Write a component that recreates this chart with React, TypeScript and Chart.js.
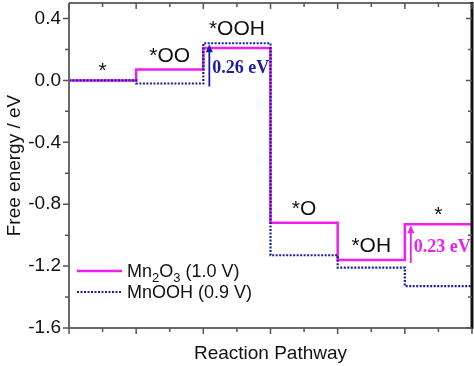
import React, { useEffect, useRef } from 'react';
import { Chart, registerables } from 'chart.js';

Chart.register(...registerables);

// ---- data ----
const steps = ['*', '*OO', '*OOH', '*O', '*OH', '*'];
const seriesNames = ['Mn2O3 (1.0 V)', 'MnOOH (0.9 V)'];
const mn2o3 = [0, 0.07, 0.21, -0.92, -1.16, -0.93];
const mnooh = [0, -0.02, 0.24, -1.13, -1.21, -1.33];
const yTickValues = [-1.6, -1.2, -0.8, -0.4, 0.0, 0.4];
// potential-limiting gaps: series index, from step, to step, label
const gapSeries = [1, 0];
const gapFrom = [1, 4];
const gapTo = [2, 5];
const gapLabels = ['0.26 eV', '0.23 eV'];

const MAGENTA = '#f01ef0';
const BLUE = '#1c1ca8';
const SANS = '"Liberation Sans", Arial, sans-serif';
const SERIF = '"Liberation Serif", "Times New Roman", serif';

const toSteps = (v: number[]) => {
  const pts = v.map((y, i) => ({ x: i, y }));
  pts.push({ x: v.length, y: v[v.length - 1] });
  return pts;
};

const decorPlugin = {
  id: 'decor',
  afterDatasetsDraw(chart: any) {
    const { ctx, chartArea: a, scales } = chart;
    const xs = scales.x;
    const ys = scales.y;
    const series = [mn2o3, mnooh];
    const colors = [MAGENTA, BLUE];
    ctx.save();

    // step labels
    ctx.fillStyle = '#111';
    ctx.font = `21px ${SANS}`;
    ctx.textAlign = 'center';
    ctx.textBaseline = 'alphabetic';
    steps.forEach((s, i) => {
      const top = Math.max(mn2o3[i], mnooh[i]);
      const off = s === '*' ? 3 : 8;
      ctx.fillText(s, xs.getPixelForValue(i + 0.5), ys.getPixelForValue(top) - off);
    });

    // gap arrows
    gapLabels.forEach((lab, k) => {
      const si = gapSeries[k];
      const v = series[si];
      const x = xs.getPixelForValue(gapTo[k]) + 6;
      const y0 = ys.getPixelForValue(v[gapFrom[k]]) + 3;
      const y1 = ys.getPixelForValue(v[gapTo[k]]) + 1;
      ctx.strokeStyle = colors[si];
      ctx.fillStyle = colors[si];
      ctx.lineWidth = 1.8;
      ctx.beginPath();
      ctx.moveTo(x, y0);
      ctx.lineTo(x, y1 + 6);
      ctx.stroke();
      ctx.beginPath();
      ctx.moveTo(x, y1);
      ctx.lineTo(x - 3.5, y1 + 8);
      ctx.lineTo(x + 3.5, y1 + 8);
      ctx.closePath();
      ctx.fill();
      ctx.font = `bold 18px ${SERIF}`;
      ctx.textAlign = 'left';
      ctx.textBaseline = 'middle';
      ctx.fillText(lab, x + 3, (y0 + y1) / 2 + 3);
    });

    // legend
    const lx = a.left + 8;
    const rows = [a.top + 268, a.top + 289];
    const drawLegendText = (x: number, y: number, parts: [string, boolean][]) => {
      let cx = x;
      parts.forEach(([t, sub]) => {
        ctx.font = sub ? `13px ${SANS}` : `18px ${SANS}`;
        ctx.fillText(t, cx, sub ? y + 6 : y);
        cx += ctx.measureText(t).width;
      });
    };
    ctx.textAlign = 'left';
    ctx.textBaseline = 'middle';
    // Mn2O3
    ctx.strokeStyle = MAGENTA;
    ctx.lineWidth = 2.5;
    ctx.setLineDash([]);
    ctx.beginPath();
    ctx.moveTo(lx, rows[0]);
    ctx.lineTo(lx + 45, rows[0]);
    ctx.stroke();
    ctx.fillStyle = '#111';
    drawLegendText(lx + 50, rows[0] + 1, [['Mn', false], ['2', true], ['O', false], ['3', true], [' (1.0 V)', false]]);
    // MnOOH
    ctx.strokeStyle = BLUE;
    ctx.lineWidth = 2.2;
    ctx.setLineDash([2, 1.5]);
    ctx.beginPath();
    ctx.moveTo(lx, rows[1]);
    ctx.lineTo(lx + 45, rows[1]);
    ctx.stroke();
    ctx.setLineDash([]);
    ctx.fillStyle = '#111';
    drawLegendText(lx + 50, rows[1] + 1, [[seriesNames[1], false]]);

    ctx.restore();
  },
  afterDraw(chart: any) {
    const { ctx, chartArea: a, scales } = chart;
    const xs = scales.x;
    const ys = scales.y;
    ctx.save();
    // frame
    ctx.strokeStyle = '#6a6a6a';
    ctx.lineWidth = 2;
    ctx.beginPath();
    ctx.moveTo(a.left, a.top);
    ctx.lineTo(a.right, a.top);
    ctx.moveTo(a.left, a.top);
    ctx.lineTo(a.left, a.bottom);
    ctx.lineTo(a.right, a.bottom);
    ctx.stroke();
    ctx.strokeStyle = '#111';
    ctx.lineWidth = 3;
    ctx.beginPath();
    ctx.moveTo(a.right, a.top - 1);
    ctx.lineTo(a.right, a.bottom + 1);
    ctx.stroke();

    // y ticks
    ctx.lineWidth = 1.5;
    ctx.strokeStyle = '#555';
    for (let k = 0; k <= 10; k++) {
      const v = -1.6 + k * 0.2;
      const major = k % 2 === 0;
      const len = major ? 6 : 4;
      const y = ys.getPixelForValue(v);
      ctx.beginPath();
      ctx.moveTo(a.left - len, y);
      ctx.lineTo(a.left, y);
      ctx.moveTo(a.right - len, y);
      ctx.lineTo(a.right, y);
      ctx.stroke();
    }
    // x ticks
    for (let k = 0; k <= 12; k++) {
      const v = k * 0.5;
      const major = k % 2 === 0;
      const len = major ? 6 : 4;
      const x = xs.getPixelForValue(v);
      ctx.beginPath();
      ctx.moveTo(x, a.bottom);
      ctx.lineTo(x, a.bottom + len);
      ctx.moveTo(x, a.top);
      ctx.lineTo(x, a.top + len);
      ctx.stroke();
    }
    ctx.restore();
  },
};

export default function App() {
  const ref = useRef<HTMLCanvasElement | null>(null);

  useEffect(() => {
    document.body.style.margin = '0';
    const canvas = ref.current;
    if (!canvas) return;
    const chart = new Chart(canvas, {
      type: 'line',
      data: {
        datasets: [
          {
            label: seriesNames[1],
            data: toSteps(mnooh),
            stepped: 'before',
            borderColor: BLUE,
            borderWidth: 2.2,
            borderDash: [2, 1.5],
            pointRadius: 0,
            fill: false,
            order: 0,
          },
          {
            label: seriesNames[0],
            data: toSteps(mn2o3),
            stepped: 'before',
            borderColor: MAGENTA,
            borderWidth: 2.5,
            pointRadius: 0,
            fill: false,
            order: 1,
          },
        ],
      },
      options: {
        animation: false,
        responsive: false,
        devicePixelRatio: 1,
        layout: { padding: { top: 3, right: 2, left: 0, bottom: 0 } },
        plugins: { legend: { display: false }, tooltip: { enabled: false } },
        scales: {
          x: {
            type: 'linear',
            min: 0,
            max: steps.length,
            grid: { display: false },
            border: { display: false },
            ticks: { display: false },
            title: {
              display: true,
              text: 'Reaction Pathway',
              color: '#111',
              font: { family: SANS, size: 19 },
              padding: { top: 14, bottom: 1 },
            },
            afterFit: (s: any) => {
              s.height = 38;
              s.paddingLeft = 0;
              s.paddingRight = 0;
            },
          },
          y: {
            type: 'linear',
            min: -1.6,
            max: 0.5,
            grid: { display: false, tickLength: 0 },
            border: { display: false },
            afterBuildTicks: (s: any) => {
              s.ticks = yTickValues.map((v) => ({ value: v }));
            },
            ticks: {
              padding: 8,
              color: '#111',
              font: { family: SANS, size: 19 },
              callback: (v: any) => Number(v).toFixed(1),
            },
            title: {
              display: true,
              text: 'Free energy / eV',
              color: '#111',
              font: { family: SANS, size: 19 },
              padding: { top: 3, bottom: 3 },
            },
            afterFit: (s: any) => {
              s.width = 69;
              s.paddingTop = 0;
              s.paddingBottom = 0;
            },
          },
        },
      },
      plugins: [decorPlugin],
    });
    return () => chart.destroy();
  }, []);

  return <canvas ref={ref} width={474} height={366} style={{ display: 'block' }} />;
}
